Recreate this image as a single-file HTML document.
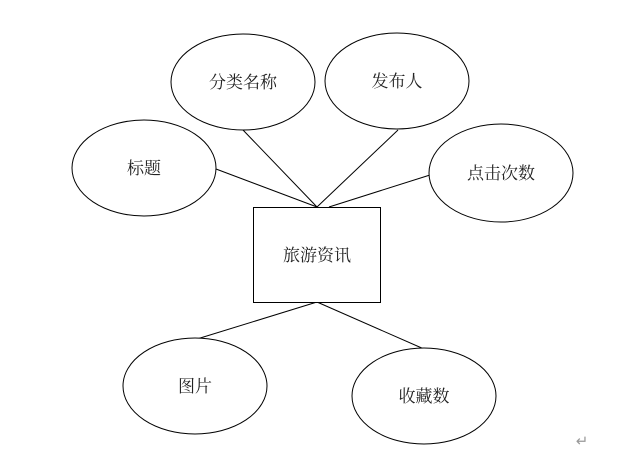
<!DOCTYPE html>
<html><head><meta charset="utf-8"><style>
html,body{margin:0;padding:0;background:#fff;}
svg{display:block;}
text{font-family:"Liberation Serif","Noto Serif CJK SC",serif;font-size:17px;fill:#222;}
</style></head><body>
<svg width="635" height="459" viewBox="0 0 635 459" xmlns="http://www.w3.org/2000/svg">
<g fill="#fff" stroke="#000" stroke-width="1">
<line x1="317" y1="207" x2="243" y2="130"/>
<line x1="317" y1="207" x2="398" y2="130"/>
<line x1="317" y1="207" x2="216" y2="169"/>
<line x1="329" y1="207" x2="430" y2="175"/>
<line x1="317" y1="302" x2="197" y2="339"/>
<line x1="317" y1="302" x2="424" y2="349"/>
<ellipse cx="243" cy="82" rx="72" ry="48"/>
<ellipse cx="397" cy="81" rx="72" ry="48"/>
<ellipse cx="144" cy="168" rx="72" ry="48"/>
<ellipse cx="501" cy="173" rx="72" ry="49"/>
<ellipse cx="195" cy="386" rx="72" ry="48"/>
<ellipse cx="424" cy="396" rx="72" ry="48"/>
<rect x="253.5" y="207.5" width="127" height="95"/>
</g>
<text x="243" y="88" text-anchor="middle">分类名称</text>
<text x="397" y="87" text-anchor="middle">发布人</text>
<text x="144" y="174" text-anchor="middle">标题</text>
<text x="501" y="179" text-anchor="middle">点击次数</text>
<text x="317" y="261" text-anchor="middle">旅游资讯</text>
<text x="195" y="392" text-anchor="middle">图片</text>
<text x="424" y="402" text-anchor="middle">收藏数</text>
<text x="582" y="446" text-anchor="middle" style="fill:#999;font-size:15px">↵</text>
</svg>
</body></html>
